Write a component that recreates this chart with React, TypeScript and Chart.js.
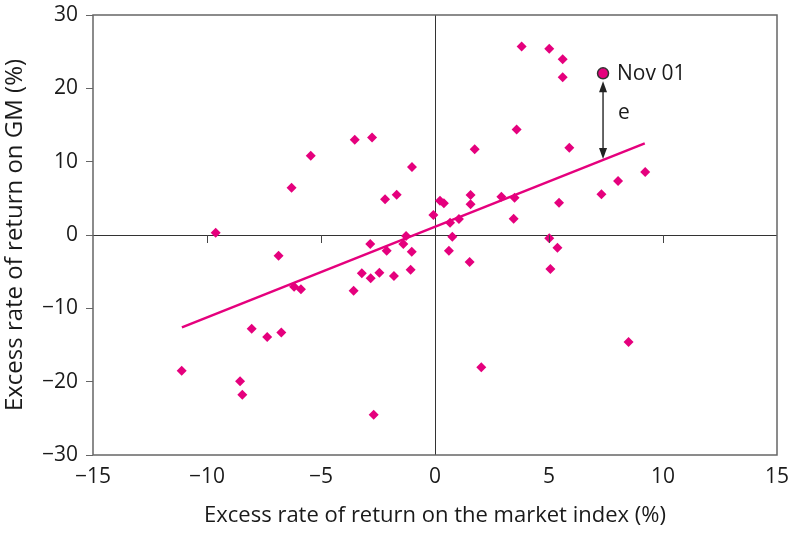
import React, { useEffect, useRef } from 'react';
import { Chart, registerables } from 'chart.js';

Chart.register(...registerables);

// Excess return on the market index (%), x values
const marketX = [
  -9.62, -6.29, -5.45, -3.52, -2.76, -1.01, -2.19, -1.68, -0.07, 0.22,
  0.39, 0.66, 1.05, 1.56, 1.56, 1.74, 2.91, 3.49, 3.45, 3.58,
  3.8, 5.01, 5.6, 5.6, 5.44, 5.89, 7.3, 8.03, 9.22, 0.76,
  0.61, 1.52, 5.01, 5.37, 5.06, 8.49, 2.03, -6.86, -6.18, -5.88,
  -2.84, -2.12, -1.39, -1.27, -1.02, -1.07, -3.21, -2.82, -2.44, -1.8,
  -3.57, -8.04, -7.36, -6.74, -11.11, -8.55, -8.45, -2.69,
];
// Excess return on GM (%), y values
const gmY = [
  0.3, 6.45, 10.8, 13.0, 13.3, 9.27, 4.87, 5.5, 2.73, 4.68,
  4.32, 1.68, 2.18, 5.45, 4.18, 11.7, 5.23, 5.09, 2.23, 14.4,
  25.7, 25.4, 23.95, 21.5, 4.41, 11.9, 5.55, 7.36, 8.6, -0.23,
  -2.14, -3.68, -0.45, -1.73, -4.64, -14.6, -18.05, -2.82, -7.05, -7.4,
  -1.23, -2.14, -1.23, -0.14, -2.27, -4.73, -5.23, -5.91, -5.14, -5.59,
  -7.59, -12.8, -13.9, -13.3, -18.5, -19.95, -21.8, -24.5,
];

// Highlighted month
const novLabel = 'Nov 01';
const novX = [7.37];
const novY = [22.05];
const residualLabel = 'e';

// Regression line end points
const lineX = [-11.1, 9.2];
const lineY = [-12.6, 12.5];

// Axis ticks
const xTicks = [-15, -10, -5, 0, 5, 10, 15];
const yTicks = [-30, -20, -10, 0, 10, 20, 30];

const xTitle = 'Excess rate of return on the market index (%)';
const yTitle = 'Excess rate of return on GM (%)';

const MAGENTA = '#e5007d';
const FONT = "'Open Sans', 'Noto Sans', sans-serif";

const fmt = (v: number) => (v < 0 ? '\u2212' + Math.abs(v) : String(v));

const decorPlugin = {
  id: 'decor',
  afterDatasetsDraw(chart: any) {
    const { ctx, chartArea, scales } = chart;
    const xs = scales.x;
    const ys = scales.y;
    ctx.save();
    // frame
    ctx.strokeStyle = '#666';
    ctx.lineWidth = 1.5;
    ctx.strokeRect(chartArea.left, chartArea.top, chartArea.right - chartArea.left, chartArea.bottom - chartArea.top);

    // x tick marks on the zero line
    const y0 = ys.getPixelForValue(0);
    ctx.strokeStyle = '#444';
    ctx.lineWidth = 1;
    xTicks.forEach((v) => {
      if (v === 0 || v === xTicks[0] || v === xTicks[xTicks.length - 1]) return;
      const px = Math.round(xs.getPixelForValue(v)) + 0.5;
      ctx.beginPath();
      ctx.moveTo(px, y0);
      ctx.lineTo(px, y0 + 8);
      ctx.stroke();
    });

    // residual arrow
    const nx = novX[0];
    const t = (nx - lineX[0]) / (lineX[1] - lineX[0]);
    const lineAt = lineY[0] + t * (lineY[1] - lineY[0]);
    const ax = xs.getPixelForValue(nx);
    const yBottom = ys.getPixelForValue(lineAt) - 1;
    const yTop = ys.getPixelForValue(novY[0]) + 8;
    ctx.strokeStyle = '#333';
    ctx.fillStyle = '#222';
    ctx.lineWidth = 1.5;
    ctx.beginPath();
    ctx.moveTo(ax, yTop + 6);
    ctx.lineTo(ax, yBottom - 6);
    ctx.stroke();
    const head = (tipY: number, dir: number) => {
      ctx.beginPath();
      ctx.moveTo(ax, tipY);
      ctx.lineTo(ax - 4, tipY + dir * 11);
      ctx.lineTo(ax + 4, tipY + dir * 11);
      ctx.closePath();
      ctx.fill();
    };
    head(yTop, 1);
    head(yBottom, -1);

    // labels
    ctx.fillStyle = '#1a1a1a';
    ctx.font = `21px ${FONT}`;
    ctx.textBaseline = 'middle';
    ctx.textAlign = 'left';
    ctx.fillText(novLabel, ax + 14, ys.getPixelForValue(novY[0]) + 1);
    ctx.fillText(residualLabel, ax + 15, (yTop + yBottom) / 2 - 7);
    ctx.restore();
  },
};

export default function App() {
  const ref = useRef<HTMLCanvasElement | null>(null);

  useEffect(() => {
    if (!ref.current) return;
    const points = marketX.map((x, i) => ({ x, y: gmY[i] }));
    const nov = novX.map((x, i) => ({ x, y: novY[i] }));
    const line = lineX.map((x, i) => ({ x, y: lineY[i] }));

    const chart = new Chart(ref.current, {
      type: 'scatter',
      data: {
        datasets: [
          {
            type: 'line',
            data: line,
            borderColor: MAGENTA,
            borderWidth: 2.5,
            pointRadius: 0,
            fill: false,
          },
          {
            data: points,
            pointStyle: 'rectRot',
            pointRadius: 5,
            backgroundColor: MAGENTA,
            borderColor: MAGENTA,
            borderWidth: 0,
          },
          {
            data: nov,
            pointStyle: 'circle',
            pointRadius: 5.5,
            backgroundColor: MAGENTA,
            borderColor: '#333',
            borderWidth: 1.5,
          },
        ],
      } as any,
      options: {
        animation: false,
        responsive: false,
        maintainAspectRatio: false,
        layout: { autoPadding: false, padding: { top: 15, right: 17, left: 0, bottom: 0 } },
        plugins: {
          legend: { display: false },
          tooltip: { enabled: false },
        },
        scales: {
          x: {
            type: 'linear',
            min: -15,
            max: 15,
            afterBuildTicks: (s: any) => {
              s.ticks = xTicks.map((v) => ({ value: v }));
            },
            afterFit: (s: any) => {
              s.height = 88;
              s.paddingLeft = 0;
              s.paddingRight = 0;
            },
            border: { display: false },
            grid: {
              drawTicks: false,
              color: (c: any) => (c.tick && c.tick.value === 0 ? '#333' : 'rgba(0,0,0,0)'),
              lineWidth: 1,
            },
            ticks: {
              padding: 9,
              color: '#1a1a1a',
              font: { family: FONT, size: 21 },
              callback: (v: any) => fmt(Number(v)),
            },
            title: {
              display: true,
              text: xTitle,
              color: '#1a1a1a',
              font: { family: FONT, size: 22 },
              padding: { top: 0, bottom: 14 },
            },
          },
          y: {
            type: 'linear',
            min: -30,
            max: 30,
            afterBuildTicks: (s: any) => {
              s.ticks = yTicks.map((v) => ({ value: v }));
            },
            afterFit: (s: any) => {
              s.width = 93;
              s.paddingTop = 0;
              s.paddingBottom = 0;
            },
            border: { display: false },
            grid: {
              drawTicks: true,
              tickLength: 7,
              tickColor: '#666',
              color: (c: any) => (c.tick && c.tick.value === 0 ? '#333' : 'rgba(0,0,0,0)'),
              lineWidth: 1,
            },
            ticks: {
              padding: 8,
              color: '#1a1a1a',
              font: { family: FONT, size: 21 },
              callback: (v: any) => fmt(Number(v)),
            },
            title: {
              display: true,
              text: yTitle,
              color: '#1a1a1a',
              font: { family: FONT, size: 24 },
              padding: { top: 1, bottom: 0 },
            },
          },
        },
      },
      plugins: [decorPlugin],
    });
    return () => chart.destroy();
  }, []);

  return (
    <div style={{ position: 'fixed', left: 0, top: 0, width: 794, height: 543, background: '#fff' }}>
      <canvas ref={ref} width={794} height={543} style={{ display: 'block', width: 794, height: 543 }} />
    </div>
  );
}
